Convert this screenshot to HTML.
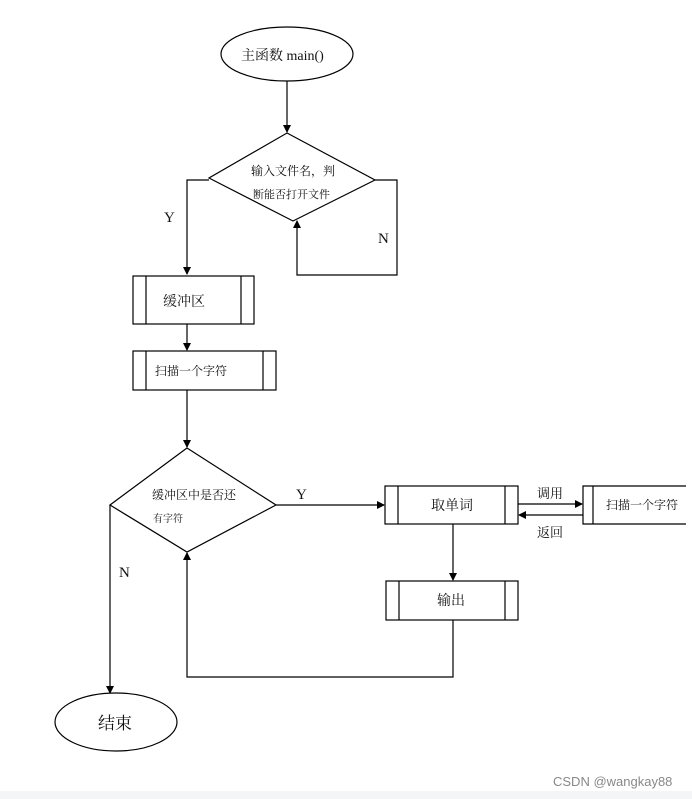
<!DOCTYPE html>
<html><head><meta charset="utf-8"><style>
html,body{margin:0;padding:0;background:#fff;}
svg{display:block;}
text{font-family:"Liberation Serif","Noto Serif CJK SC",serif;fill:#111;}
</style></head><body>
<svg width="692" height="799" viewBox="0 0 692 799" xmlns="http://www.w3.org/2000/svg">
<defs><marker id="a" markerWidth="8" markerHeight="8" refX="7" refY="4" orient="auto" markerUnits="userSpaceOnUse"><path d="M0,0 L8,4 L0,8 z" fill="#000"/></marker></defs>
<rect x="0" y="0" width="692" height="791" fill="#fff"/>
<rect x="0" y="791" width="692" height="8" fill="#f4f5f7"/>
<g stroke="#000" stroke-width="1.2" fill="none">
<ellipse cx="287" cy="54" rx="66" ry="27" fill="#fff"/>
<line x1="287" y1="81" x2="287" y2="132" marker-end="url(#a)"/>
<polygon points="287,133 375,180 293,221 209,178" fill="#fff"/>
<polyline points="209,180 187,180 187,274" marker-end="url(#a)"/>
<polyline points="375,180 397,180 397,275 297,275 297,221" marker-end="url(#a)"/>
<rect x="133" y="276" width="121" height="48"/>
<line x1="146" y1="276" x2="146" y2="324"/><line x1="241" y1="276" x2="241" y2="324"/>
<line x1="187" y1="324" x2="187" y2="350" marker-end="url(#a)"/>
<rect x="133" y="351" width="143" height="39"/>
<line x1="146" y1="351" x2="146" y2="390"/><line x1="263" y1="351" x2="263" y2="390"/>
<line x1="187" y1="390" x2="187" y2="447" marker-end="url(#a)"/>
<polygon points="187,448 276,505 187,552 110,505" fill="#fff"/>
<line x1="276" y1="505" x2="384" y2="505" marker-end="url(#a)"/>
<rect x="385" y="486" width="133" height="38"/>
<line x1="398" y1="486" x2="398" y2="524"/><line x1="505" y1="486" x2="505" y2="524"/>
<line x1="518" y1="504" x2="582" y2="504" marker-end="url(#a)"/>
<line x1="583" y1="515" x2="519" y2="515" marker-end="url(#a)"/>
<polyline points="686,486 583,486 583,524 686,524"/>
<line x1="593" y1="486" x2="593" y2="524"/>
<line x1="453" y1="524" x2="453" y2="580" marker-end="url(#a)"/>
<rect x="386" y="581" width="132" height="39"/>
<line x1="399" y1="581" x2="399" y2="620"/><line x1="505" y1="581" x2="505" y2="620"/>
<polyline points="453,620 453,677 187,677 187,553" marker-end="url(#a)"/>
<line x1="110" y1="505" x2="110" y2="693" marker-end="url(#a)"/>
<ellipse cx="116" cy="722" rx="61" ry="29" fill="#fff"/>
</g>
<text x="241" y="60" font-size="14">主函数 main()</text>
<text x="251" y="175" font-size="12">输入文件名，判</text>
<text x="253" y="198" font-size="11">断能否打开文件</text>
<text x="164" y="222" font-size="15">Y</text>
<text x="378" y="243" font-size="15">N</text>
<text x="163" y="306" font-size="14">缓冲区</text>
<text x="155" y="375" font-size="12">扫描一个字符</text>
<text x="152" y="499" font-size="12">缓冲区中是否还</text>
<text x="153" y="522" font-size="10">有字符</text>
<text x="296" y="499" font-size="15">Y</text>
<text x="119" y="577" font-size="15">N</text>
<text x="431" y="510" font-size="14">取单词</text>
<text x="537" y="498" font-size="13">调用</text>
<text x="537" y="537" font-size="13">返回</text>
<text x="606" y="509" font-size="12">扫描一个字符</text>
<text x="437" y="605" font-size="14">输出</text>
<text x="98" y="729" font-size="17">结束</text>
<text x="553" y="786" font-size="13" style="font-family:'Liberation Sans',sans-serif;fill:#888">CSDN @wangkay88</text>
</svg>
</body></html>
